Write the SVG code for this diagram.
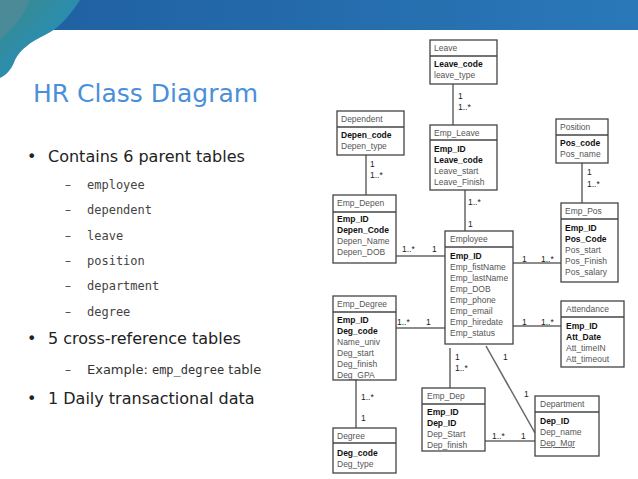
<svg xmlns="http://www.w3.org/2000/svg" width="638" height="479" viewBox="0 0 638 479">
<defs>
<linearGradient id="band" x1="0" x2="1"><stop offset="0" stop-color="#1f5fa0"/><stop offset="1" stop-color="#2a78b8"/></linearGradient>
<linearGradient id="sw" x1="0" y1="0" x2="1" y2="1"><stop offset="0" stop-color="#3a8a8a"/><stop offset="1" stop-color="#1e90d0"/></linearGradient>
</defs>
<style>
.box{fill:#fff;stroke:#444;stroke-width:1.3}
.t{font-family:"Liberation Sans",Arial,sans-serif;font-size:8.5px;fill:#555}
.b{font-family:"Liberation Sans",Arial,sans-serif;font-size:8.5px;fill:#111;font-weight:bold}
.l{font-family:"Liberation Sans",Arial,sans-serif;font-size:8.5px;fill:#222}
.c line{stroke:#666;stroke-width:1.5}
.bul{font-family:"DejaVu Sans",sans-serif;font-size:16px;fill:#222}
.sub{font-family:"DejaVu Sans Mono",monospace;font-size:12px;fill:#444}
.dash{font-family:"DejaVu Sans",sans-serif;font-size:12px;fill:#444}
</style>
<rect width="638" height="479" fill="#fff"/>
<rect x="0" y="0" width="638" height="30" fill="url(#band)"/>
<path d="M0,0 H80 C70,15 60,28 45,35 C30,42 20,50 15,60 C12,68 8,74 0,78 Z" fill="url(#sw)"/>
<path d="M0,0 H30 C22,20 10,30 0,40 Z" fill="#5a8a9a" opacity="0.6"/>
<text x="33" y="102" font-family="DejaVu Sans,sans-serif" font-size="25" fill="#4a90d9">HR Class Diagram</text>
<g id="bullets">
<text x="27" y="162" class="bul">•</text><text x="48" y="162" class="bul">Contains 6 parent tables</text>
<text x="65" y="189" class="dash">–</text><text x="87" y="189" class="sub">employee</text>
<text x="65" y="214" class="dash">–</text><text x="87" y="214" class="sub">dependent</text>
<text x="65" y="240" class="dash">–</text><text x="87" y="240" class="sub">leave</text>
<text x="65" y="265" class="dash">–</text><text x="87" y="265" class="sub">position</text>
<text x="65" y="290" class="dash">–</text><text x="87" y="290" class="sub">department</text>
<text x="65" y="316" class="dash">–</text><text x="87" y="316" class="sub">degree</text>
<text x="27" y="344" class="bul">•</text><text x="48" y="344" class="bul">5 cross-reference tables</text>
<text x="65" y="374" class="dash">–</text><text x="87" y="374" font-family="DejaVu Sans,sans-serif" font-size="13" fill="#333">Example: <tspan font-family="DejaVu Sans Mono,monospace" font-size="12">emp_degree</tspan> table</text>
<text x="27" y="404" class="bul">•</text><text x="48" y="404" class="bul">1 Daily transactional data</text>
</g>
<g class="c" id="connectors">
<line x1="453" y1="84" x2="453" y2="125"/>
<line x1="465" y1="190" x2="465" y2="231"/>
<line x1="366" y1="155" x2="366" y2="195"/>
<line x1="582" y1="163" x2="582" y2="203"/>
<line x1="396" y1="256" x2="445" y2="256"/>
<line x1="513" y1="263" x2="561" y2="263"/>
<line x1="396" y1="328" x2="445" y2="328"/>
<line x1="513" y1="326" x2="561" y2="326"/>
<line x1="450" y1="348" x2="450" y2="388"/>
<line x1="486" y1="346" x2="535" y2="433"/>
<line x1="485" y1="441" x2="535" y2="441"/>
<line x1="356" y1="380" x2="356" y2="428"/>
<g class="l">
<text x="458" y="99">1</text><text x="458" y="110">1..*</text>
<text x="468" y="205">1..*</text><text x="468" y="227">1</text>
<text x="370" y="167">1</text><text x="370" y="178">1..*</text>
<text x="587" y="175">1</text><text x="587" y="187">1..*</text>
<text x="402" y="252">1..*</text><text x="432" y="252">1</text>
<text x="522" y="262">1</text><text x="541" y="262">1..*</text>
<text x="397" y="325">1..*</text><text x="426" y="325">1</text>
<text x="522" y="325">1</text><text x="541" y="325">1..*</text>
<text x="455" y="360">1</text><text x="455" y="371">1..*</text>
<text x="503" y="360">1</text><text x="524" y="397">1</text>
<text x="492" y="439">1..*</text><text x="521" y="439">1</text>
<text x="361" y="400">1..*</text><text x="361" y="421">1</text>
</g>
</g>
<g id="leave"><rect class="box" x="430" y="40" width="67" height="44"/><line x1="430" y1="56" x2="497" y2="56" stroke="#444" stroke-width="1.3"/>
<text class="t" x="434" y="51">Leave</text><text class="b" x="434" y="67">Leave_code</text><text class="t" x="434" y="78">leave_type</text></g>
<g id="emp_leave"><rect class="box" x="430" y="125" width="67" height="65"/><line x1="430" y1="140" x2="497" y2="140" stroke="#444" stroke-width="1.3"/>
<text class="t" x="434" y="136">Emp_Leave</text><text class="b" x="434" y="152">Emp_ID</text><text class="b" x="434" y="163">Leave_code</text><text class="t" x="434" y="174">Leave_start</text><text class="t" x="434" y="185">Leave_Finish</text></g>
<g id="dependent"><rect class="box" x="337" y="111" width="67" height="44"/><line x1="337" y1="127" x2="404" y2="127" stroke="#444" stroke-width="1.3"/>
<text class="t" x="341" y="122">Dependent</text><text class="b" x="341" y="138">Depen_code</text><text class="t" x="341" y="149">Depen_type</text></g>
<g id="position"><rect class="box" x="556" y="119" width="52" height="44"/><line x1="556" y1="135" x2="608" y2="135" stroke="#444" stroke-width="1.3"/>
<text class="t" x="560" y="130">Position</text><text class="b" x="560" y="146">Pos_code</text><text class="t" x="560" y="157">Pos_name</text></g>
<g id="emp_depen"><rect class="box" x="333" y="195" width="63" height="68"/><line x1="333" y1="212" x2="396" y2="212" stroke="#444" stroke-width="1.3"/>
<text class="t" x="337" y="206">Emp_Depen</text><text class="b" x="337" y="222">Emp_ID</text><text class="b" x="337" y="233">Depen_Code</text><text class="t" x="337" y="244">Depen_Name</text><text class="t" x="337" y="255">Depen_DOB</text></g>
<g id="emp_pos"><rect class="box" x="561" y="203" width="57" height="79"/><line x1="561" y1="219" x2="618" y2="219" stroke="#444" stroke-width="1.3"/>
<text class="t" x="565" y="214">Emp_Pos</text><text class="b" x="565" y="231">Emp_ID</text><text class="b" x="565" y="242">Pos_Code</text><text class="t" x="565" y="253">Pos_start</text><text class="t" x="565" y="264">Pos_Finish</text><text class="t" x="565" y="275">Pos_salary</text></g>
<g id="employee"><rect class="box" x="445" y="231" width="68" height="113"/><line x1="445" y1="247" x2="513" y2="247" stroke="#444" stroke-width="1.3"/>
<text class="t" x="450" y="242">Employee</text><text class="b" x="450" y="259">Emp_ID</text><text class="t" x="450" y="270">Emp_fistName</text><text class="t" x="450" y="281">Emp_lastName</text><text class="t" x="450" y="292">Emp_DOB</text><text class="t" x="450" y="303">Emp_phone</text><text class="t" x="450" y="314">Emp_email</text><text class="t" x="450" y="325">Emp_hiredate</text><text class="t" x="450" y="336">Emp_status</text></g>
<g id="emp_degree"><rect class="box" x="333" y="296" width="63" height="84"/><line x1="333" y1="312" x2="396" y2="312" stroke="#444" stroke-width="1.3"/>
<text class="t" x="337" y="307">Emp_Degree</text><text class="b" x="337" y="323">Emp_ID</text><text class="b" x="337" y="334">Deg_code</text><text class="t" x="337" y="345">Name_univ</text><text class="t" x="337" y="356">Deg_start</text><text class="t" x="337" y="367">Deg_finish</text><text class="t" x="337" y="378">Deg_GPA</text></g>
<g id="attendance"><rect class="box" x="561" y="301" width="63" height="66"/><line x1="561" y1="317" x2="624" y2="317" stroke="#444" stroke-width="1.3"/>
<text class="t" x="566" y="312">Attendance</text><text class="b" x="566" y="329">Emp_ID</text><text class="b" x="566" y="340">Att_Date</text><text class="t" x="566" y="351">Att_timeIN</text><text class="t" x="566" y="362">Att_timeout</text></g>
<g id="emp_dep"><rect class="box" x="422" y="388" width="63" height="63"/><line x1="422" y1="404" x2="485" y2="404" stroke="#444" stroke-width="1.3"/>
<text class="t" x="427" y="399">Emp_Dep</text><text class="b" x="427" y="415">Emp_ID</text><text class="b" x="427" y="426">Dep_ID</text><text class="t" x="427" y="437">Dep_Start</text><text class="t" x="427" y="448">Dep_finish</text></g>
<g id="department"><rect class="box" x="535" y="396" width="64" height="60"/><line x1="535" y1="412" x2="599" y2="412" stroke="#444" stroke-width="1.3"/>
<text class="t" x="540" y="407">Department</text><text class="b" x="540" y="424">Dep_ID</text><text class="t" x="540" y="435">Dep_name</text><text class="t" x="540" y="446" text-decoration="underline">Dep_Mgr</text></g>
<g id="degree"><rect class="box" x="333" y="428" width="63" height="45"/><line x1="333" y1="443" x2="396" y2="443" stroke="#444" stroke-width="1.3"/>
<text class="t" x="337" y="439">Degree</text><text class="b" x="337" y="456">Deg_code</text><text class="t" x="337" y="467">Deg_type</text></g>
</svg>
